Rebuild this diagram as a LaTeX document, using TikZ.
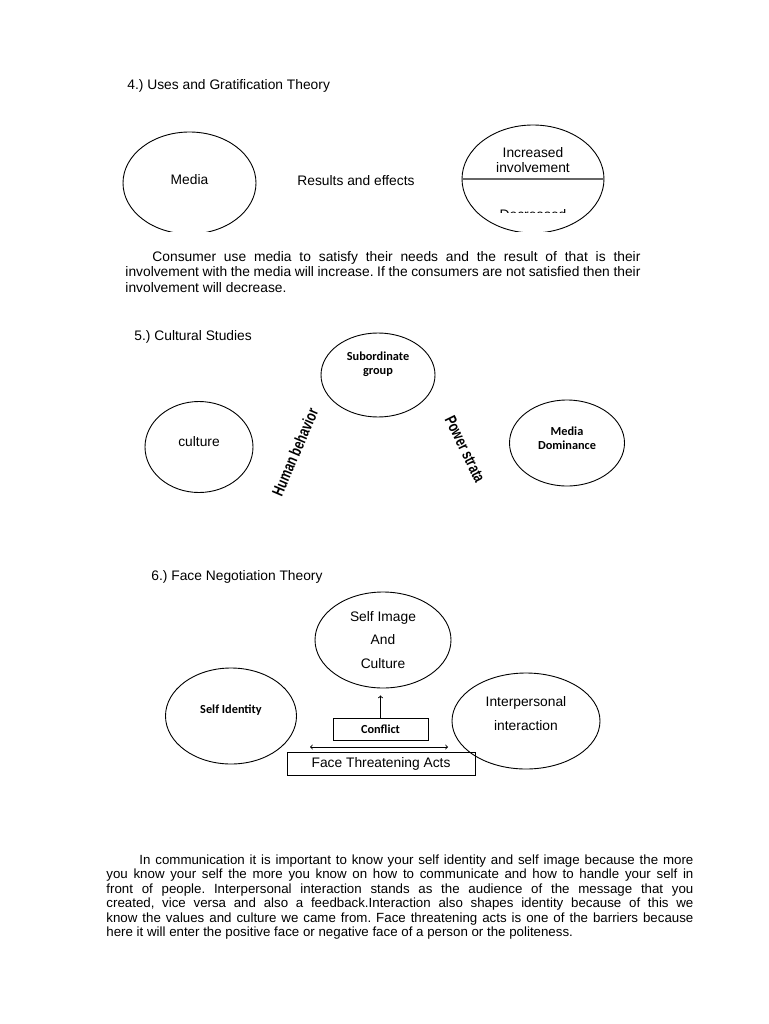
\documentclass[tikz,border=0pt]{standalone}
\usepackage{fontspec}
\setmainfont{Liberation Sans}
\newfontfamily\calibri{Carlito}
\usetikzlibrary{shapes.geometric}
\frenchspacing

\newcommand\bodysize{\fontsize{13.8}{15.5}\selectfont}
\newcommand\notesize{\fontsize{13.3}{14.5}\selectfont}
\newcommand\tagsize{\calibri\bfseries\fontsize{12.3}{14}\selectfont}
\newcommand\fullline[2]{\makebox[#1][s]{#2}}

\begin{document}
\begin{tikzpicture}[x=1pt,y=-1pt,line width=0.9pt,font=\bodysize]
	\tikzstyle{bubble}=[draw,ellipse,inner sep=0pt,align=center]
	\tikzstyle{tag}=[font=\tagsize,align=center]
	\tikzstyle{slant}=[font=\bfseries\fontsize{12}{14}\selectfont,yscale=1.35]
	\tikzstyle{box}=[draw,rectangle,inner sep=0pt]
	\tikzstyle{head}=[anchor=base west,inner sep=0pt]
	\tikzstyle{para}=[anchor=north west,inner sep=0pt,align=left]

	\useasboundingbox (0,0) rectangle (768,1024);

	% 4.) uses and gratification
	\node[head] (h4) at (127,90) {4.) Uses and Gratification Theory};
	\begin{scope}
		\clip (0,0) rectangle (768,232);
		\node[bubble,minimum width=133,minimum height=102,text depth=6pt] (media) at (189.5,183) {Media};
		\node[bubble,minimum width=142,minimum height=108] (result) at (533,179) {};
		\draw[line width=1.6pt,black!60] (result.west) -- (result.east);
	\end{scope}
	\node[align=center] (incr) at (533,160) {Increased\\involvement};
	\begin{scope}
		\clip (440,200) rectangle (620,213);
		\node (decr) at (533,215) {Decreased};
	\end{scope}
	\node (effects) at (356,181) {Results and effects};

	\node[para] (p4) at (125,251) {\hspace*{27pt}\fullline{488pt}{Consumer use media to satisfy their needs and the result of that is their}\\
		\fullline{515pt}{involvement with the media will increase. If the consumers are not satisfied then their}\\
		involvement will decrease.};

	% 5.) cultural studies
	\node[head] (h5) at (134,340) {5.) Cultural Studies};
	\node[bubble,tag,minimum width=114,minimum height=84,text depth=23pt] (subgroup) at (378,375) {Subordinate\\group};
	\node[bubble,minimum width=108,minimum height=91,text depth=11pt] (culture) at (199,447) {culture};
	\node[bubble,tag,minimum width=115,minimum height=86,text depth=10pt] (dominance) at (567,443) {Media\\Dominance};
	\node[rotate=67,slant] (behavior) at (295,452) {Human behavior};
	\node[rotate=-64,slant] (strata) at (465,449) {Power strata};

	% 6.) face negotiation
	\node[head] (h6) at (151,580) {6.) Face Negotiation Theory};
	\node[bubble,minimum width=136,minimum height=96] (selfimage) at (383,640) {Self Image\\[8pt]And\\[8pt]Culture};
	\node[bubble,tag,minimum width=131,minimum height=96,text depth=13pt] (identity) at (231,716) {Self Identity};
	\node[bubble,minimum width=148,minimum height=96,text depth=15pt] (interaction) at (526,721) {Interpersonal\\[8pt]interaction};
	\node[box,tag,minimum width=95,minimum height=22] (conflict) at (380.5,729) {Conflict};
	\node[box,minimum width=188,minimum height=23] (threat) at (381,763.5) {Face Threatening Acts};
	\coordinate (fl) at (310,747);
	\coordinate (fr) at (448,747);

	\draw[->] (conflict.north) -- ([yshift=-7pt]conflict.north |- selfimage.south);
	\draw[<->] (fl) -- (fr);

	\node[para,font=\notesize] (p6) at (106,854) {\hspace*{33pt}\fullline{554pt}{In communication it is important to know your self identity and self image because the more}\\
		\fullline{587pt}{you know your self the more you know on how to communicate and how to handle your self in}\\
		\fullline{587pt}{front of people. Interpersonal interaction stands as the audience of the message that you}\\
		\fullline{587pt}{created, vice versa and also a feedback.Interaction also shapes identity because of this we}\\
		\fullline{587pt}{know the values and culture we came from. Face threatening acts is one of the barriers because}\\
		here it will enter the positive face or negative face of a person or the politeness.};
\end{tikzpicture}
\end{document}
